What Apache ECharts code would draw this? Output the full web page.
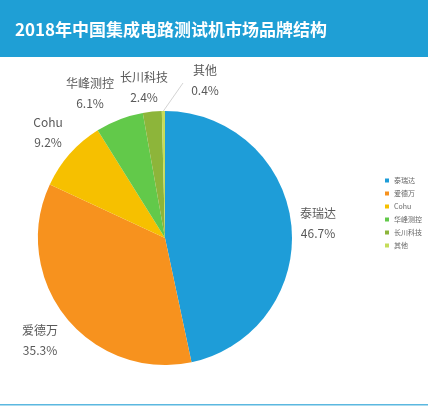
<!DOCTYPE html>
<html>
<head>
<meta charset="utf-8">
<script src="https://cdn.jsdelivr.net/npm/echarts@6/dist/echarts.min.js"></script>
<style>
  html, body { margin: 0; padding: 0; background: #fff; }
  #main { width: 432px; height: 409px; }
</style>
</head>
<body>
<div id="main"></div>
<script>
// 品牌及份额(%)
var brands = ['泰瑞达', '爱德万', 'Cohu', '华峰测控', '长川科技', '其他'];
var shares = [46.7, 35.3, 9.2, 6.1, 2.4, 0.4];
var colors = ['#1e9dd8', '#f7921e', '#f6c000', '#62c94a', '#8db53a', '#c5dc5a'];
// 标签中心位置(像素)
var labelPos = [[318, 223], [40, 340], [48, 132], [90, 93], [144, 87], [205, 80]];

var dataList = [];
for (var i = 0; i < brands.length; i++) {
  dataList.push({
    name: brands[i],
    value: shares[i],
    labelLine: { show: brands[i] == '其他' }
  });
}

var chart = echarts.init(document.getElementById('main'), null, { renderer: 'canvas' });
var option = {
  color: colors,
  graphic: [
    // 顶部标题栏
    { type: 'rect', shape: { x: 0, y: 0, width: 428, height: 57 }, style: { fill: '#1f9fd5' } },
    { type: 'text', left: 15, top: 21, style: {
        text: '2018年中国集成电路测试机市场品牌结构',
        fill: '#fff', font: 'bold 17px "Noto Sans CJK SC"'
    } },
    // 底部线
    { type: 'rect', shape: { x: 0, y: 404, width: 428, height: 1.5 }, style: { fill: '#5bb8e0' } }
  ],
  legend: {
    orient: 'vertical',
    left: 380,
    top: 172,
    itemWidth: 4,
    itemHeight: 4,
    itemGap: 6,
    icon: 'rect',
    textStyle: { fontSize: 7, color: '#666', fontFamily: 'Noto Sans CJK SC' },
    data: brands
  },
  series: [
    {
      type: 'pie',
      center: [165, 238],
      radius: [0, 127],
      startAngle: 90,
      clockwise: true,
      data: dataList,
      label: {
        show: true,
        position: 'outside',
        overflow: 'none',
        width: 80,
        formatter: function (p) { return p.name + '\n' + p.value.toFixed(1) + '%'; },
        color: '#595959',
        fontSize: 12,
        lineHeight: 20,
        fontFamily: 'Noto Sans CJK SC'
      },
      labelLine: {
        length: 8,
        length2: 0,
        lineStyle: { color: '#c8c8c8', width: 0.8 }
      },
      labelLayout: function (params) {
        var p = labelPos[params.dataIndex];
        var res = {
          x: p[0],
          y: p[1],
          align: 'center',
          verticalAlign: 'middle'
        };
        // 引导线: 从扇区边缘连到标签左下
        if (params.labelLinePoints) {
          var s = params.labelLinePoints[0];
          res.labelLinePoints = [[s[0], s[1]], [p[0] - 22, p[1] + 3]];
        }
        return res;
      },
      itemStyle: { borderWidth: 0 }
    }
  ]
};
chart.setOption(option);
</script>
</body>
</html>
